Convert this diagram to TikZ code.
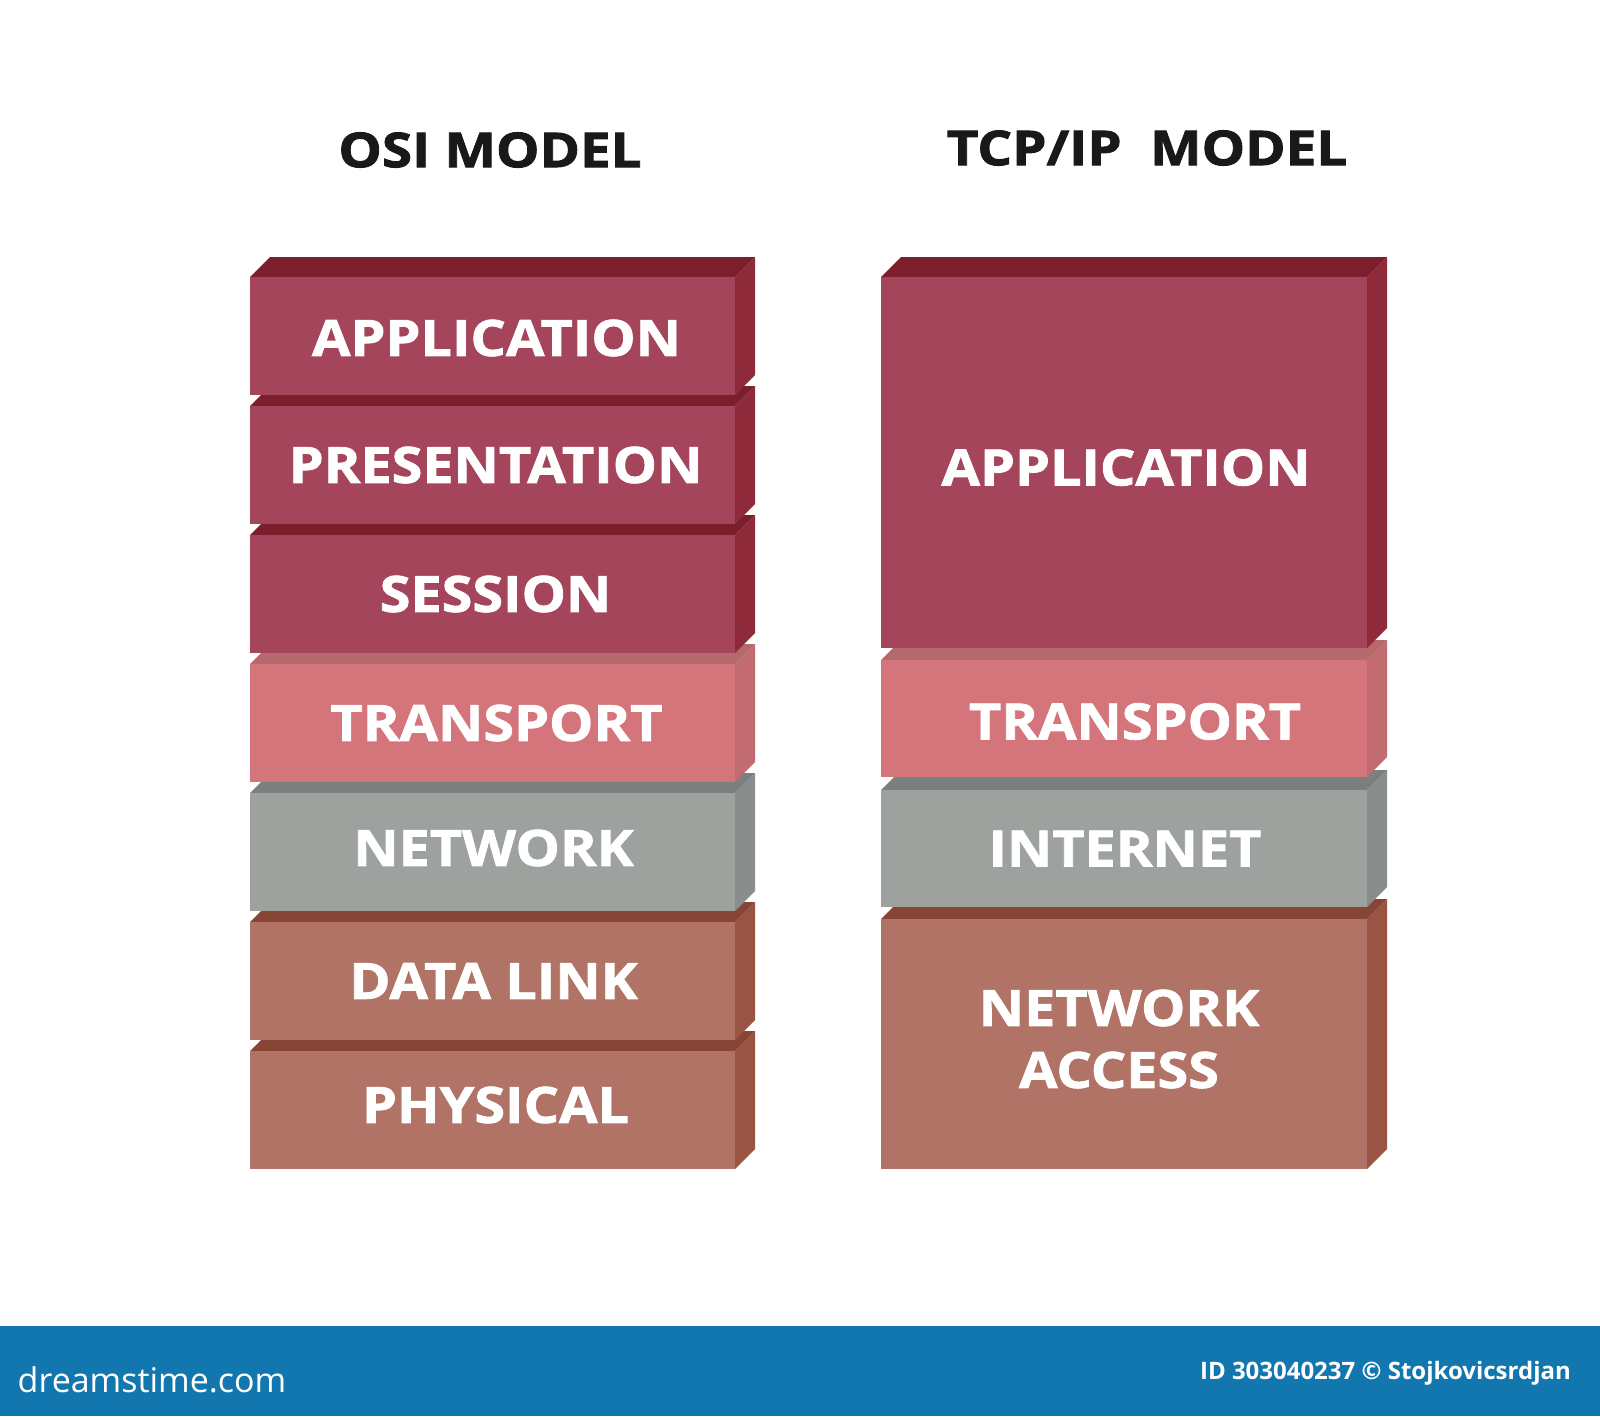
\documentclass[tikz,border=0pt]{standalone}
\usepackage{fontspec}
\setmainfont{Open Sans}
\newfontfamily\heavy{Open Sans}[BoldFeatures={FakeBold=1.6,FakeStretch=1.115}]
\newfontfamily\heavyt{Open Sans}[BoldFeatures={FakeBold=1.8,FakeStretch=1.14}]
\definecolor{rfront}{HTML}{A4455C}
\definecolor{rtop}{HTML}{7A1F2B}
\definecolor{rside}{HTML}{8E2A3A}
\definecolor{pfront}{HTML}{D4757B}
\definecolor{ptop}{HTML}{B5696D}
\definecolor{pside}{HTML}{C26B71}
\definecolor{gfront}{HTML}{9DA29E}
\definecolor{gtop}{HTML}{7B7F7D}
\definecolor{gside}{HTML}{898E8C}
\definecolor{bfront}{HTML}{B07366}
\definecolor{btop}{HTML}{874536}
\definecolor{bside}{HTML}{9A5444}
\definecolor{banner}{HTML}{1277AE}
\tikzset{
  lay/.style={font=\heavy\bfseries\fontsize{50}{62}\selectfont, text=white, align=center, inner sep=0pt},
  ttl/.style={font=\heavyt\bfseries\fontsize{48}{58}\selectfont, text=black!90, inner sep=0pt},
}
% #1 name, #2 x0, #3 x1, #4 ytop, #5 ybot, #6 colour prefix, #7 text, #8 text y shift, #9 text x shift
\newcommand\mkbox[9]{%
  \fill[#6side] (#3,#4) -- ({#3+20},{#4-20}) -- ({#3+20},{#5-20}) -- (#3,#5) -- cycle;
  \fill[#6top] (#2,#4) -- ({#2+20},{#4-20}) -- ({#3+20},{#4-20}) -- (#3,#4) -- cycle;
  \fill[#6front] (#2,#4) rectangle (#3,#5);
  \node[lay] (#1) at ({(#2+#3)/2+3+#9},{(#4+#5)/2+#8}) {#7};
}
\begin{document}
\begin{tikzpicture}[x=1pt,y=-1pt]
\useasboundingbox (0,0) rectangle (1600,1416);
\fill[white] (0,0) rectangle (1600,1416);
% titles
\node[ttl] (osititle) at (490,150) {OSI MODEL};
\node[ttl] (tcptitle) at (1147,148) {TCP/IP\ \ MODEL};
% OSI stack (bottom first)
\mkbox{osiphy}{250}{735}{1051}{1169}{b}{PHYSICAL}{-5}{0}
\mkbox{osidl}{250}{735}{922}{1040}{b}{DATA LINK}{0}{-2}
\mkbox{osinet}{250}{735}{793}{911}{g}{NETWORK}{-4}{-2}
\mkbox{ositr}{250}{735}{664}{782}{p}{TRANSPORT}{0}{1}
\mkbox{osises}{250}{735}{535}{653}{r}{SESSION}{0}{0}
\mkbox{osipres}{250}{735}{406}{524}{r}{PRESENTATION}{0}{0}
\mkbox{osiapp}{250}{735}{277}{395}{r}{APPLICATION}{2}{1}
% TCP/IP stack
\mkbox{tcpna}{881}{1367}{919}{1169}{b}{NETWORK\\[0pt]ACCESS}{-5}{-8}
\mkbox{tcpint}{881}{1367}{790}{907}{g}{INTERNET}{0}{-2}
\mkbox{tcptr}{881}{1367}{660}{777}{p}{TRANSPORT}{3}{8}
\mkbox{tcpapp}{881}{1367}{277}{648}{r}{APPLICATION}{5}{-1}
% banner
\fill[banner] (0,1326) rectangle (1600,1416);
\node[text=white, font=\fontsize{34}{40}\selectfont, inner sep=0pt] (site) at (152,1380) {dreamstime.com};
\node[text=white, font=\bfseries\fontsize{24}{30}\selectfont, inner sep=0pt, anchor=east] (credit) at (1571,1373) {ID 303040237 © Stojkovicsrdjan};
\end{tikzpicture}
\end{document}
